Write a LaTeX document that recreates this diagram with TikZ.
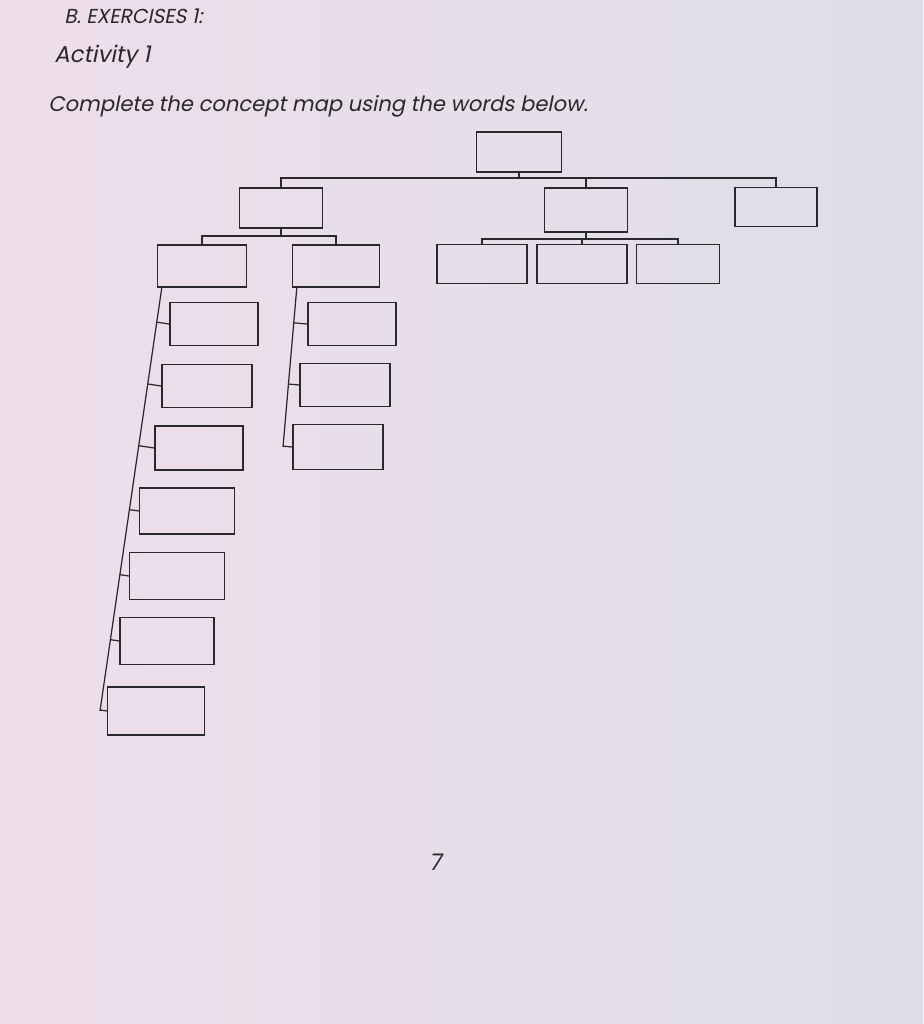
\documentclass[tikz,border=0pt]{standalone}
\usepackage{fontspec}
\usetikzlibrary{calc}
\newfontfamily\hdfont[FakeSlant=0.2]{Poppins}
\definecolor{paperL}{RGB}{238,222,234}
\definecolor{paperR}{RGB}{222,222,232}
\definecolor{ink}{RGB}{40,40,45}
\newcommand\bx[5]{\node[box,minimum width=#4*0.02cm,minimum height=#5*0.02cm] (#1) at (#2,#3) {};}
\begin{document}
\begin{tikzpicture}[x=0.02cm,y=-0.02cm,
  box/.style={draw=ink,line width=0.8pt,inner sep=0pt},
  link/.style={draw=ink,line width=0.7pt},
  hd/.style={font=\hdfont\fontsize{12}{14}\selectfont,text=ink,anchor=west,inner sep=0pt}]
\shade[left color=paperL,right color=paperR] (0,0) rectangle (923,1024);
\useasboundingbox (0,0) rectangle (923,1024);
% texts
\node[hd,font=\hdfont\fontsize{11.5}{13}\selectfont] (t1) at (64,16) {B. EXERCISES 1:};
\node[hd,font=\hdfont\fontsize{13}{15}\selectfont] (t2) at (54,57) {Activity 1};
\node[hd] (t3) at (48,106) {Complete the concept map using the words below.};
\node[hd,anchor=center,font=\hdfont\fontsize{13}{15}\selectfont] (pg) at (435,862) {7};
% boxes
\bx{top}{519}{152}{85}{40}
\bx{L}{281}{208}{83}{40}
\bx{M}{586}{210}{83}{44}
\bx{R}{776}{207}{82}{39}
\bx{A}{202}{266}{89}{42}
\bx{B}{336}{266}{87}{42}
\bx{M1}{482}{264}{90}{39}
\bx{M2}{582}{264}{90}{39}
\bx{M3}{678}{264}{83}{39}
\bx{A1}{214}{324}{88}{43}
\bx{A2}{207}{386}{90}{43}
\bx{A3}{199}{448}{88}{44}
\bx{A4}{187}{511}{95}{46}
\bx{A5}{177}{576}{95}{47}
\bx{A6}{167}{641}{94}{47}
\bx{A7}{156}{711}{97}{48}
\bx{B1}{352}{324}{88}{43}
\bx{B2}{345}{385}{90}{43}
\bx{B3}{338}{447}{90}{45}
% buses
\coordinate (bus1) at (519,178);
\coordinate (bus2) at (281,236);
\coordinate (bus3) at (586,239);
\draw[link] (top.south) -- (bus1);
\draw[link] (L.north) -- (L.north |- bus1) -- (R.north |- bus1) -- (R.north);
\draw[link] (M.north) -- (M.north |- bus1);
\draw[link] (L.south) -- (bus2);
\draw[link] (A.north) -- (A.north |- bus2) -- (B.north |- bus2) -- (B.north);
\draw[link] (M.south) -- (bus3);
\draw[link] (M1.north) -- (M1.north |- bus3) -- (M3.north |- bus3) -- (M3.north);
\draw[link] (M2.north) -- (M2.north |- bus3);
% left trunk
\coordinate (tA) at ($(A.south west)+(5,0)$);
\coordinate (tB) at (100,711);
\draw[link] (tA) -- (tB);
\foreach \n in {A1,A2,A3,A4,A5,A6,A7}
  \draw[link] ($(tA)!(\n.west)!(tB)$) -- (\n.west);
% right trunk
\coordinate (sA) at ($(B.south west)+(5,0)$);
\coordinate (sB) at (283,447);
\draw[link] (sA) -- (sB);
\foreach \n in {B1,B2,B3}
  \draw[link] ($(sA)!(\n.west)!(sB)$) -- (\n.west);
\end{tikzpicture}
\end{document}
